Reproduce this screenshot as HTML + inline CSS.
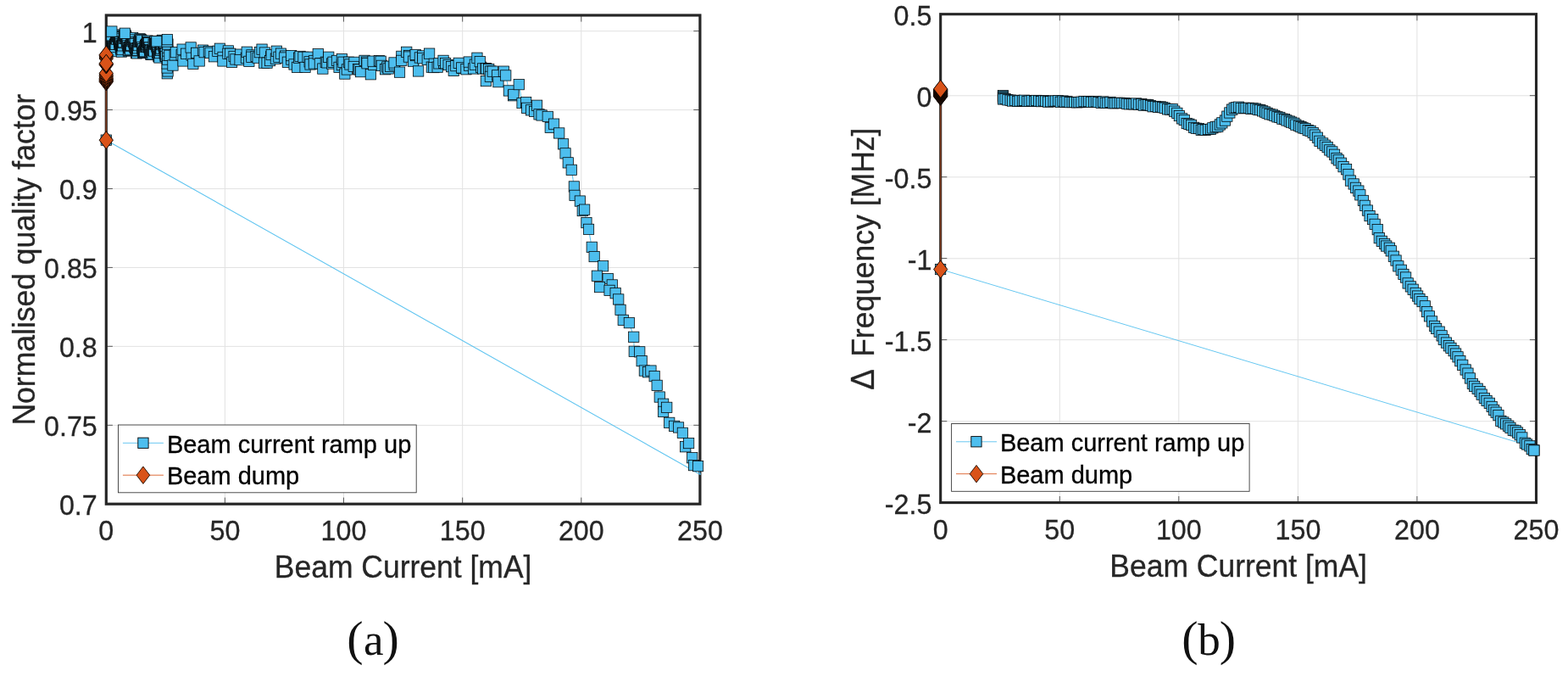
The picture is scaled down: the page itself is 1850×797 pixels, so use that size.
<!DOCTYPE html>
<html lang="en"><head><meta charset="utf-8"><title>Figure</title>
<style>
html,body{margin:0;padding:0;background:#fff;}
body{width:1850px;height:797px;overflow:hidden;}
svg{display:block;}
text{font-family:"Liberation Sans",sans-serif;fill:#262626;stroke:#262626;stroke-width:0.3px;}
.tk{font-size:32.3px;}
.lb{font-size:35.5px;}
.lg{font-size:29px;fill:#000;stroke:#000;}
.cp{font-family:"Liberation Serif",serif;font-size:53px;fill:#111;stroke:none;}
</style></head><body>
<svg width="1850" height="797" viewBox="0 0 1850 797">
<rect width="1850" height="797" fill="#fff"/>
<path d="M265.4 18V594.2M405.5 18V594.2M545.7 18V594.2M685.8 18V594.2M125.3 501.4H825.9M125.3 408.4H825.9M125.3 315.5H825.9M125.3 222.6H825.9M125.3 129.6H825.9M125.3 36.7H825.9" stroke="#e2e2e2" stroke-width="1" fill="none"/>
<path d="M265.4 594.2v-7.6M265.4 18v7.6M405.5 594.2v-7.6M405.5 18v7.6M545.7 594.2v-7.6M545.7 18v7.6M685.8 594.2v-7.6M685.8 18v7.6M125.3 501.3h7.6M825.9 501.3h-7.6M125.3 408.3h7.6M825.9 408.3h-7.6M125.3 315.4h7.6M825.9 315.4h-7.6M125.3 222.5h7.6M825.9 222.5h-7.6M125.3 129.5h7.6M825.9 129.5h-7.6M125.3 36.6h7.6M825.9 36.6h-7.6" stroke="#4a4a4a" stroke-width="0.9" fill="none"/>
<rect x="125.3" y="18" width="700.6" height="576.2" fill="none" stroke="#262626" stroke-width="3.2"/>
<path d="M1250.3 16.7V592.6M1390.8 16.7V592.6M1531.4 16.7V592.6M1671.9 16.7V592.6M1109.7 112.8H1812.5M1109.7 208.8H1812.5M1109.7 304.8H1812.5M1109.7 400.7H1812.5M1109.7 496.7H1812.5" stroke="#e2e2e2" stroke-width="1" fill="none"/>
<path d="M1250.3 592.6v-7.6M1250.3 16.7v7.6M1390.8 592.6v-7.6M1390.8 16.7v7.6M1531.4 592.6v-7.6M1531.4 16.7v7.6M1671.9 592.6v-7.6M1671.9 16.7v7.6M1109.7 112.7h7.6M1812.5 112.7h-7.6M1109.7 208.7h7.6M1812.5 208.7h-7.6M1109.7 304.6h7.6M1812.5 304.6h-7.6M1109.7 400.6h7.6M1812.5 400.6h-7.6M1109.7 496.6h7.6M1812.5 496.6h-7.6" stroke="#4a4a4a" stroke-width="0.9" fill="none"/>
<rect x="1109.7" y="16.7" width="702.8" height="575.9" fill="none" stroke="#262626" stroke-width="3.1"/>
<path d="M131.8 49.2L132.4 54.2L132.8 54.4L133 56.3L133.2 56.3L133.7 56.2L133.9 54.9L134.1 57.1L134.5 54.9L134.9 60.7L135.4 55.5L135.7 52.5L136.1 51.5L136.3 52.4L136.6 45.8L137.1 44.7L137.6 46L137.9 43.4L138.2 41.7L138.5 41.2L138.8 42.2L139.1 41.1L139.6 42.7L139.8 46.6L140 43.7L140.3 45.2L140.7 49.2L141 51.5L141.2 52.9L141.5 49.7L141.7 51.4L142 52L142.3 54.2L142.5 57.4L142.8 56.2L143 58.7L143.4 61L143.7 54.2L144.2 58.6L144.3 53L144.8 53.9L145.1 50.7L145.7 49.6L146.2 45.1L146.8 42L147.3 42.1L147.8 45.2L148.4 41.8L148.8 44.2L149.1 44.4L149.3 47.5L149.8 48.5L150.3 51.8L150.9 53.9L151.3 60.1L151.9 55.9L152.2 59.2L152.7 55.9L153 55.5L153.3 56.9L153.8 58.6L154 54L154.5 53.9L154.6 53.1L154.9 47.1L155.4 48.6L156 46.8L156.4 46.8L156.6 44.5L157.1 47.1L157.6 49.6L158.2 51.3L158.8 55.8L159.4 51.7L159.7 57L160.1 57.9L160.7 62.5L161 58.2L161.4 62.9L161.8 59.7L162.1 59.8L162.3 59.4L162.8 56.7L163.4 53.7L163.9 49.2L164.4 48.4L165 45.8L165.6 47.6L166 46.8L166.6 49.1L167 47.8L167.4 55.8L167.8 58.1L168.4 57.8L168.8 62.6L169.4 61.9L169.7 61.6L169.9 60.8L170.2 59.5L170.5 60.6L171 55.1L171.5 53.5L172.1 55.1L172.4 52.5L172.6 54.7L172.9 53.2L173.1 51.6L173.3 52.4L173.6 48.6L174 48.1L174.2 49.5L174.6 50.6L175.2 51.8L175.4 50.7L175.8 56.1L176.2 56.1L176.6 58.6L176.9 61.4L177.4 59.6L177.9 64.3L178.4 64.2L178.9 60.8L179.5 61.6L180 64L180.4 59.5L180.9 58.6L181.2 52.1L181.6 60L182.1 52L182.6 49.5L182.8 51.8L183.1 48.4L183.6 51.3L184.1 52.6L184.7 50.8L184.9 54.9L185.3 56L185.6 62.1L186.1 62.7L186.4 64.7L187 66.7L187.6 66.1L188 67.9L188.4 62.6L188.9 59.1L189.4 59.1L189.6 56.6L190 57.1L190.4 52.6L190.9 51.5L191.4 47.4L191.9 48.2L192.1 50.1L192.7 51.1L193.1 54.4L193.5 56.5L194 56.4L194.2 62.3L194.5 63.5L195 66.2L195.3 63.1L195.7 66.4L131.8 37L147.3 39.3L185 48.8L197.2 86.8L198.1 84L197.2 80L197.2 75L197.7 70L197.6 65L197.9 60L197.4 56L198 52L197.2 49L197.3 46.6L200 65.3L204 77.1L206.2 64.8L207.4 61.6L214.1 64.9L215.2 58.1L216.1 72L219.7 63.3L226.1 65L225.2 55.9L227.8 75.4L231.6 62.5L231.7 62.4L235.2 72L239.4 59.1L241.2 61.6L246.4 60.7L248.2 62.2L252.5 66.8L256.8 60.2L259.4 57.2L263.1 67.4L262.9 72L269.3 59.9L268.9 63.3L271.7 63.3L273.5 73.3L276 66.4L277.9 70L283.9 64.2L283 70.7L290.4 68.4L291.2 61.2L293.8 72.4L296.9 64.9L296.8 67.2L302 66.4L304.2 68.2L306.4 61.6L309 58.1L312.4 62.1L311.6 74.2L315 74.2L319.6 66.8L318.5 71.6L320.2 64.6L325.3 69.1L326.3 60.3L328.9 67.2L331.5 63.2L336.6 66L335.8 68.1L339.3 73.3L343.8 70.1L343.6 65.5L347 75.9L350.5 79.4L352.7 68.1L354 66.4L357.9 67.4L360 79.4L363 67.2L365.1 72.8L366 75.9L370.5 71.8L370.4 75L375.2 63.8L378.4 74.9L377.4 75L380.8 81.1L384.3 73.3L385.9 73.8L387.7 67.2L391.5 75L393 73.3L397.5 71.4L400 79.4L403.4 76.6L403.3 69.8L405 73.3L406.8 87.1L409.4 82L411.4 73.3L412.9 75.9L418 73.3L417.2 78.5L422.6 81.8L424 82L425.7 84.7L430 71.4L432.7 73L433 74.8L437.3 87.8L440.5 76.3L440 72.2L447.3 71.8L449.2 72.3L450.3 77.4L454.6 81.8L456.8 79L458.1 80.9L460.7 78.3L465.3 76.7L465 74L471.5 85.2L473.8 66.4L473.7 71.4L479.7 61.4L482.6 65.8L482.3 67L487.5 72.2L490.5 65.6L490.1 64.4L493.6 83.9L495.3 67.9L498.7 66L498.8 68.8L504.3 70.5L506.6 63.1L509.2 79.2L512.2 75.3L511.8 79.6L516.1 79.2L517.9 74.9L523.7 74.2L523 71.4L525.6 74.8L529.1 76.6L532.6 78.6L535.2 83.5L537.8 77.6L541.2 74.4L545.4 80.3L544.7 80L549.9 81.8L553.5 77.2L553.3 73.1L558.5 80.9L560.4 76.1L562.9 68.3L567.7 79.3L566.3 72.7L569.8 80.9L573.1 80.7L573.4 95.6L573.6 81L576.7 81.8L578.9 84L578.4 90.4L581.3 84.2L586.8 88.9L587.9 96.7L594.4 84.2L596.8 89L600.4 107L605.7 112.8L605.9 111.5L612.3 99.7L616 121.6L620.6 120.6L621.7 127.4L626.5 129.8L630.5 131.5L633.5 124.3L636 134.8L639 136L646.3 137.5L649.2 150.5L653.5 146.2L659.8 156.9L664.5 169.8L667 180.8L670.2 191.8L674.3 200.4L677.4 220L678 230.4L684.4 237.1L687.3 248.6L689.6 247.2L691.9 262.5L694.5 270.3L698.2 291.3L701.1 302.5L711.5 313.7L704.4 325.2L717.2 328.5L707.5 338.5L722.2 335.9L719 342.4L726.1 345.7L729.7 352.9L732 365.3L735.3 377.3L742.4 380.6L747.7 397.2L748.3 414.2L754.8 414.8L757.1 425.6L760.4 437L764.6 438.7L767.9 437L772.1 443.6L775.1 454.3L778.3 468L782.6 476.2L782.6 485.3L786.8 480.4L789.7 498.4L795.6 502.3L800.5 503.9L805.4 510.4L808.7 526.8L812.6 522.5L816.8 539.8L818.5 548.6L823.5 549.6L826.3 559.5L125.3 165.2" stroke="#4DBEEE" stroke-width="1.05" stroke-opacity="0.9" fill="none" stroke-linejoin="round"/>
<g fill="#4DBEEE" stroke="#000" stroke-width="0.75"><rect x="125.7" y="43" width="12.3" height="12.3"/><rect x="126.2" y="48" width="12.3" height="12.3"/><rect x="126.6" y="48.2" width="12.3" height="12.3"/><rect x="126.9" y="50.1" width="12.3" height="12.3"/><rect x="127.1" y="50.2" width="12.3" height="12.3"/><rect x="127.5" y="50.1" width="12.3" height="12.3"/><rect x="127.7" y="48.7" width="12.3" height="12.3"/><rect x="127.9" y="51" width="12.3" height="12.3"/><rect x="128.4" y="48.7" width="12.3" height="12.3"/><rect x="128.8" y="54.5" width="12.3" height="12.3"/><rect x="129.3" y="49.4" width="12.3" height="12.3"/><rect x="129.6" y="46.3" width="12.3" height="12.3"/><rect x="129.9" y="45.3" width="12.3" height="12.3"/><rect x="130.1" y="46.3" width="12.3" height="12.3"/><rect x="130.5" y="39.7" width="12.3" height="12.3"/><rect x="131" y="38.5" width="12.3" height="12.3"/><rect x="131.5" y="39.8" width="12.3" height="12.3"/><rect x="131.7" y="37.2" width="12.3" height="12.3"/><rect x="132.1" y="35.5" width="12.3" height="12.3"/><rect x="132.3" y="35.1" width="12.3" height="12.3"/><rect x="132.6" y="36.1" width="12.3" height="12.3"/><rect x="132.9" y="35" width="12.3" height="12.3"/><rect x="133.4" y="36.5" width="12.3" height="12.3"/><rect x="133.7" y="40.5" width="12.3" height="12.3"/><rect x="133.9" y="37.5" width="12.3" height="12.3"/><rect x="134.2" y="39.1" width="12.3" height="12.3"/><rect x="134.6" y="43" width="12.3" height="12.3"/><rect x="134.8" y="45.4" width="12.3" height="12.3"/><rect x="135.1" y="46.7" width="12.3" height="12.3"/><rect x="135.4" y="43.5" width="12.3" height="12.3"/><rect x="135.6" y="45.2" width="12.3" height="12.3"/><rect x="135.9" y="45.9" width="12.3" height="12.3"/><rect x="136.2" y="48" width="12.3" height="12.3"/><rect x="136.4" y="51.2" width="12.3" height="12.3"/><rect x="136.7" y="50" width="12.3" height="12.3"/><rect x="136.9" y="52.6" width="12.3" height="12.3"/><rect x="137.2" y="54.9" width="12.3" height="12.3"/><rect x="137.6" y="48" width="12.3" height="12.3"/><rect x="138" y="52.4" width="12.3" height="12.3"/><rect x="138.2" y="46.9" width="12.3" height="12.3"/><rect x="138.6" y="47.7" width="12.3" height="12.3"/><rect x="139" y="44.5" width="12.3" height="12.3"/><rect x="139.5" y="43.4" width="12.3" height="12.3"/><rect x="140.1" y="38.9" width="12.3" height="12.3"/><rect x="140.6" y="35.8" width="12.3" height="12.3"/><rect x="141.2" y="35.9" width="12.3" height="12.3"/><rect x="141.6" y="39" width="12.3" height="12.3"/><rect x="142.3" y="35.7" width="12.3" height="12.3"/><rect x="142.7" y="38" width="12.3" height="12.3"/><rect x="142.9" y="38.2" width="12.3" height="12.3"/><rect x="143.2" y="41.3" width="12.3" height="12.3"/><rect x="143.6" y="42.4" width="12.3" height="12.3"/><rect x="144.1" y="45.6" width="12.3" height="12.3"/><rect x="144.7" y="47.7" width="12.3" height="12.3"/><rect x="145.2" y="53.9" width="12.3" height="12.3"/><rect x="145.7" y="49.7" width="12.3" height="12.3"/><rect x="146" y="53.1" width="12.3" height="12.3"/><rect x="146.6" y="49.8" width="12.3" height="12.3"/><rect x="146.8" y="49.3" width="12.3" height="12.3"/><rect x="147.1" y="50.8" width="12.3" height="12.3"/><rect x="147.7" y="52.5" width="12.3" height="12.3"/><rect x="147.9" y="47.9" width="12.3" height="12.3"/><rect x="148.3" y="47.8" width="12.3" height="12.3"/><rect x="148.5" y="47" width="12.3" height="12.3"/><rect x="148.8" y="41" width="12.3" height="12.3"/><rect x="149.2" y="42.5" width="12.3" height="12.3"/><rect x="149.8" y="40.7" width="12.3" height="12.3"/><rect x="150.2" y="40.6" width="12.3" height="12.3"/><rect x="150.5" y="38.3" width="12.3" height="12.3"/><rect x="151" y="40.9" width="12.3" height="12.3"/><rect x="151.5" y="43.4" width="12.3" height="12.3"/><rect x="152.1" y="45.1" width="12.3" height="12.3"/><rect x="152.7" y="49.6" width="12.3" height="12.3"/><rect x="153.2" y="45.6" width="12.3" height="12.3"/><rect x="153.5" y="50.8" width="12.3" height="12.3"/><rect x="154" y="51.7" width="12.3" height="12.3"/><rect x="154.6" y="56.4" width="12.3" height="12.3"/><rect x="154.9" y="52" width="12.3" height="12.3"/><rect x="155.3" y="56.7" width="12.3" height="12.3"/><rect x="155.7" y="53.5" width="12.3" height="12.3"/><rect x="155.9" y="53.6" width="12.3" height="12.3"/><rect x="156.2" y="53.2" width="12.3" height="12.3"/><rect x="156.6" y="50.6" width="12.3" height="12.3"/><rect x="157.2" y="47.5" width="12.3" height="12.3"/><rect x="157.7" y="43.1" width="12.3" height="12.3"/><rect x="158.3" y="42.2" width="12.3" height="12.3"/><rect x="158.9" y="39.7" width="12.3" height="12.3"/><rect x="159.5" y="41.5" width="12.3" height="12.3"/><rect x="159.9" y="40.6" width="12.3" height="12.3"/><rect x="160.5" y="43" width="12.3" height="12.3"/><rect x="160.9" y="41.7" width="12.3" height="12.3"/><rect x="161.3" y="49.7" width="12.3" height="12.3"/><rect x="161.7" y="51.9" width="12.3" height="12.3"/><rect x="162.2" y="51.6" width="12.3" height="12.3"/><rect x="162.7" y="56.4" width="12.3" height="12.3"/><rect x="163.2" y="55.7" width="12.3" height="12.3"/><rect x="163.5" y="55.5" width="12.3" height="12.3"/><rect x="163.7" y="54.7" width="12.3" height="12.3"/><rect x="164" y="53.4" width="12.3" height="12.3"/><rect x="164.4" y="54.5" width="12.3" height="12.3"/><rect x="164.8" y="48.9" width="12.3" height="12.3"/><rect x="165.4" y="47.3" width="12.3" height="12.3"/><rect x="165.9" y="49" width="12.3" height="12.3"/><rect x="166.2" y="46.3" width="12.3" height="12.3"/><rect x="166.5" y="48.5" width="12.3" height="12.3"/><rect x="166.8" y="47" width="12.3" height="12.3"/><rect x="167" y="45.5" width="12.3" height="12.3"/><rect x="167.2" y="46.2" width="12.3" height="12.3"/><rect x="167.4" y="42.4" width="12.3" height="12.3"/><rect x="167.8" y="41.9" width="12.3" height="12.3"/><rect x="168" y="43.3" width="12.3" height="12.3"/><rect x="168.4" y="44.5" width="12.3" height="12.3"/><rect x="169.1" y="45.7" width="12.3" height="12.3"/><rect x="169.3" y="44.6" width="12.3" height="12.3"/><rect x="169.7" y="49.9" width="12.3" height="12.3"/><rect x="170.1" y="50" width="12.3" height="12.3"/><rect x="170.5" y="52.5" width="12.3" height="12.3"/><rect x="170.7" y="55.2" width="12.3" height="12.3"/><rect x="171.3" y="53.4" width="12.3" height="12.3"/><rect x="171.7" y="58.1" width="12.3" height="12.3"/><rect x="172.3" y="58" width="12.3" height="12.3"/><rect x="172.8" y="54.7" width="12.3" height="12.3"/><rect x="173.3" y="55.4" width="12.3" height="12.3"/><rect x="173.9" y="57.8" width="12.3" height="12.3"/><rect x="174.2" y="53.3" width="12.3" height="12.3"/><rect x="174.7" y="52.4" width="12.3" height="12.3"/><rect x="175" y="45.9" width="12.3" height="12.3"/><rect x="175.4" y="53.9" width="12.3" height="12.3"/><rect x="176" y="45.8" width="12.3" height="12.3"/><rect x="176.4" y="43.4" width="12.3" height="12.3"/><rect x="176.7" y="45.6" width="12.3" height="12.3"/><rect x="177" y="42.3" width="12.3" height="12.3"/><rect x="177.4" y="45.2" width="12.3" height="12.3"/><rect x="177.9" y="46.5" width="12.3" height="12.3"/><rect x="178.5" y="44.7" width="12.3" height="12.3"/><rect x="178.8" y="48.7" width="12.3" height="12.3"/><rect x="179.1" y="49.8" width="12.3" height="12.3"/><rect x="179.5" y="56" width="12.3" height="12.3"/><rect x="180" y="56.6" width="12.3" height="12.3"/><rect x="180.3" y="58.5" width="12.3" height="12.3"/><rect x="180.8" y="60.6" width="12.3" height="12.3"/><rect x="181.5" y="59.9" width="12.3" height="12.3"/><rect x="181.8" y="61.8" width="12.3" height="12.3"/><rect x="182.3" y="56.4" width="12.3" height="12.3"/><rect x="182.8" y="52.9" width="12.3" height="12.3"/><rect x="183.3" y="52.9" width="12.3" height="12.3"/><rect x="183.5" y="50.4" width="12.3" height="12.3"/><rect x="183.9" y="50.9" width="12.3" height="12.3"/><rect x="184.3" y="46.5" width="12.3" height="12.3"/><rect x="184.8" y="45.4" width="12.3" height="12.3"/><rect x="185.2" y="41.2" width="12.3" height="12.3"/><rect x="185.7" y="42.1" width="12.3" height="12.3"/><rect x="186" y="44" width="12.3" height="12.3"/><rect x="186.6" y="44.9" width="12.3" height="12.3"/><rect x="186.9" y="48.2" width="12.3" height="12.3"/><rect x="187.4" y="50.3" width="12.3" height="12.3"/><rect x="187.8" y="50.2" width="12.3" height="12.3"/><rect x="188.1" y="56.2" width="12.3" height="12.3"/><rect x="188.3" y="57.3" width="12.3" height="12.3"/><rect x="188.8" y="60.1" width="12.3" height="12.3"/><rect x="189.2" y="57" width="12.3" height="12.3"/><rect x="189.5" y="60.3" width="12.3" height="12.3"/><rect x="125.7" y="30.9" width="12.3" height="12.3"/><rect x="141.2" y="33.1" width="12.3" height="12.3"/><rect x="178.8" y="42.6" width="12.3" height="12.3"/><rect x="191.1" y="80.6" width="12.3" height="12.3"/><rect x="191.9" y="77.8" width="12.3" height="12.3"/><rect x="191" y="73.8" width="12.3" height="12.3"/><rect x="191" y="68.8" width="12.3" height="12.3"/><rect x="191.6" y="63.9" width="12.3" height="12.3"/><rect x="191.5" y="58.9" width="12.3" height="12.3"/><rect x="191.7" y="53.9" width="12.3" height="12.3"/><rect x="191.3" y="49.9" width="12.3" height="12.3"/><rect x="191.8" y="45.9" width="12.3" height="12.3"/><rect x="191" y="42.9" width="12.3" height="12.3"/><rect x="191.2" y="40.5" width="12.3" height="12.3"/><rect x="193.8" y="59.2" width="12.3" height="12.3"/><rect x="197.8" y="70.9" width="12.3" height="12.3"/><rect x="200.1" y="58.7" width="12.3" height="12.3"/><rect x="201.2" y="55.5" width="12.3" height="12.3"/><rect x="208" y="58.7" width="12.3" height="12.3"/><rect x="209" y="52" width="12.3" height="12.3"/><rect x="209.9" y="65.8" width="12.3" height="12.3"/><rect x="213.5" y="57.1" width="12.3" height="12.3"/><rect x="220" y="58.9" width="12.3" height="12.3"/><rect x="219" y="49.8" width="12.3" height="12.3"/><rect x="221.7" y="69.2" width="12.3" height="12.3"/><rect x="225.4" y="56.4" width="12.3" height="12.3"/><rect x="225.5" y="56.2" width="12.3" height="12.3"/><rect x="229" y="65.8" width="12.3" height="12.3"/><rect x="233.3" y="53" width="12.3" height="12.3"/><rect x="235" y="55.5" width="12.3" height="12.3"/><rect x="240.2" y="54.6" width="12.3" height="12.3"/><rect x="242" y="56.1" width="12.3" height="12.3"/><rect x="246.3" y="60.6" width="12.3" height="12.3"/><rect x="250.7" y="54.1" width="12.3" height="12.3"/><rect x="253.2" y="51.1" width="12.3" height="12.3"/><rect x="256.9" y="61.3" width="12.3" height="12.3"/><rect x="256.8" y="65.8" width="12.3" height="12.3"/><rect x="263.2" y="53.8" width="12.3" height="12.3"/><rect x="262.8" y="57.1" width="12.3" height="12.3"/><rect x="265.6" y="57.1" width="12.3" height="12.3"/><rect x="267.4" y="67.1" width="12.3" height="12.3"/><rect x="269.9" y="60.3" width="12.3" height="12.3"/><rect x="271.8" y="63.8" width="12.3" height="12.3"/><rect x="277.7" y="58" width="12.3" height="12.3"/><rect x="276.9" y="64.5" width="12.3" height="12.3"/><rect x="284.2" y="62.2" width="12.3" height="12.3"/><rect x="285.1" y="55.1" width="12.3" height="12.3"/><rect x="287.7" y="66.2" width="12.3" height="12.3"/><rect x="290.8" y="58.8" width="12.3" height="12.3"/><rect x="290.7" y="61.1" width="12.3" height="12.3"/><rect x="295.9" y="60.3" width="12.3" height="12.3"/><rect x="298" y="62" width="12.3" height="12.3"/><rect x="300.2" y="55.5" width="12.3" height="12.3"/><rect x="302.9" y="52" width="12.3" height="12.3"/><rect x="306.2" y="55.9" width="12.3" height="12.3"/><rect x="305.5" y="68" width="12.3" height="12.3"/><rect x="308.9" y="68" width="12.3" height="12.3"/><rect x="313.5" y="60.7" width="12.3" height="12.3"/><rect x="312.4" y="65.4" width="12.3" height="12.3"/><rect x="314.1" y="58.4" width="12.3" height="12.3"/><rect x="319.2" y="63" width="12.3" height="12.3"/><rect x="320.2" y="54.1" width="12.3" height="12.3"/><rect x="322.8" y="61.1" width="12.3" height="12.3"/><rect x="325.3" y="57" width="12.3" height="12.3"/><rect x="330.4" y="59.9" width="12.3" height="12.3"/><rect x="329.7" y="61.9" width="12.3" height="12.3"/><rect x="333.2" y="67.1" width="12.3" height="12.3"/><rect x="337.7" y="63.9" width="12.3" height="12.3"/><rect x="337.5" y="59.4" width="12.3" height="12.3"/><rect x="340.9" y="69.8" width="12.3" height="12.3"/><rect x="344.4" y="73.2" width="12.3" height="12.3"/><rect x="346.5" y="62" width="12.3" height="12.3"/><rect x="347.9" y="60.3" width="12.3" height="12.3"/><rect x="351.8" y="61.2" width="12.3" height="12.3"/><rect x="353.9" y="73.2" width="12.3" height="12.3"/><rect x="356.9" y="61.1" width="12.3" height="12.3"/><rect x="359" y="66.7" width="12.3" height="12.3"/><rect x="359.9" y="69.8" width="12.3" height="12.3"/><rect x="364.3" y="65.7" width="12.3" height="12.3"/><rect x="364.2" y="68.8" width="12.3" height="12.3"/><rect x="369.1" y="57.6" width="12.3" height="12.3"/><rect x="372.3" y="68.7" width="12.3" height="12.3"/><rect x="371.2" y="68.8" width="12.3" height="12.3"/><rect x="374.7" y="74.9" width="12.3" height="12.3"/><rect x="378.2" y="67.1" width="12.3" height="12.3"/><rect x="379.8" y="67.7" width="12.3" height="12.3"/><rect x="381.6" y="61.1" width="12.3" height="12.3"/><rect x="385.4" y="68.9" width="12.3" height="12.3"/><rect x="386.9" y="67.1" width="12.3" height="12.3"/><rect x="391.3" y="65.3" width="12.3" height="12.3"/><rect x="393.9" y="73.2" width="12.3" height="12.3"/><rect x="397.2" y="70.5" width="12.3" height="12.3"/><rect x="397.2" y="63.6" width="12.3" height="12.3"/><rect x="398.9" y="67.1" width="12.3" height="12.3"/><rect x="400.7" y="80.9" width="12.3" height="12.3"/><rect x="403.2" y="75.8" width="12.3" height="12.3"/><rect x="405.3" y="67.1" width="12.3" height="12.3"/><rect x="406.8" y="69.8" width="12.3" height="12.3"/><rect x="411.9" y="67.2" width="12.3" height="12.3"/><rect x="411.1" y="72.3" width="12.3" height="12.3"/><rect x="416.5" y="75.6" width="12.3" height="12.3"/><rect x="417.9" y="75.8" width="12.3" height="12.3"/><rect x="419.6" y="78.5" width="12.3" height="12.3"/><rect x="423.9" y="65.2" width="12.3" height="12.3"/><rect x="426.5" y="66.9" width="12.3" height="12.3"/><rect x="426.9" y="68.6" width="12.3" height="12.3"/><rect x="431.2" y="81.6" width="12.3" height="12.3"/><rect x="434.4" y="70.1" width="12.3" height="12.3"/><rect x="433.9" y="66" width="12.3" height="12.3"/><rect x="441.2" y="65.6" width="12.3" height="12.3"/><rect x="443" y="66.1" width="12.3" height="12.3"/><rect x="444.2" y="71.2" width="12.3" height="12.3"/><rect x="448.5" y="75.6" width="12.3" height="12.3"/><rect x="450.7" y="72.8" width="12.3" height="12.3"/><rect x="452" y="74.8" width="12.3" height="12.3"/><rect x="454.6" y="72.1" width="12.3" height="12.3"/><rect x="459.1" y="70.5" width="12.3" height="12.3"/><rect x="458.9" y="67.8" width="12.3" height="12.3"/><rect x="465.4" y="79" width="12.3" height="12.3"/><rect x="467.7" y="60.2" width="12.3" height="12.3"/><rect x="467.6" y="65.2" width="12.3" height="12.3"/><rect x="473.6" y="55.2" width="12.3" height="12.3"/><rect x="476.5" y="59.6" width="12.3" height="12.3"/><rect x="476.2" y="60.9" width="12.3" height="12.3"/><rect x="481.4" y="66" width="12.3" height="12.3"/><rect x="484.3" y="59.4" width="12.3" height="12.3"/><rect x="484" y="58.3" width="12.3" height="12.3"/><rect x="487.5" y="77.8" width="12.3" height="12.3"/><rect x="489.2" y="61.8" width="12.3" height="12.3"/><rect x="492.5" y="59.8" width="12.3" height="12.3"/><rect x="492.7" y="62.6" width="12.3" height="12.3"/><rect x="498.1" y="64.3" width="12.3" height="12.3"/><rect x="500.5" y="57" width="12.3" height="12.3"/><rect x="503.1" y="73" width="12.3" height="12.3"/><rect x="506.1" y="69.1" width="12.3" height="12.3"/><rect x="505.7" y="73.4" width="12.3" height="12.3"/><rect x="510" y="73" width="12.3" height="12.3"/><rect x="511.8" y="68.7" width="12.3" height="12.3"/><rect x="517.6" y="68.1" width="12.3" height="12.3"/><rect x="516.9" y="65.2" width="12.3" height="12.3"/><rect x="519.5" y="68.6" width="12.3" height="12.3"/><rect x="523" y="70.4" width="12.3" height="12.3"/><rect x="526.5" y="72.5" width="12.3" height="12.3"/><rect x="529.1" y="77.3" width="12.3" height="12.3"/><rect x="531.7" y="71.5" width="12.3" height="12.3"/><rect x="535.1" y="68.2" width="12.3" height="12.3"/><rect x="539.3" y="74.1" width="12.3" height="12.3"/><rect x="538.6" y="73.8" width="12.3" height="12.3"/><rect x="543.8" y="75.6" width="12.3" height="12.3"/><rect x="547.4" y="71" width="12.3" height="12.3"/><rect x="547.1" y="66.9" width="12.3" height="12.3"/><rect x="552.4" y="74.8" width="12.3" height="12.3"/><rect x="554.2" y="70" width="12.3" height="12.3"/><rect x="556.8" y="62.1" width="12.3" height="12.3"/><rect x="561.6" y="73.1" width="12.3" height="12.3"/><rect x="560.1" y="66.5" width="12.3" height="12.3"/><rect x="563.6" y="74.8" width="12.3" height="12.3"/><rect x="567" y="74.5" width="12.3" height="12.3"/><rect x="567.2" y="89.4" width="12.3" height="12.3"/><rect x="567.5" y="74.8" width="12.3" height="12.3"/><rect x="570.6" y="75.6" width="12.3" height="12.3"/><rect x="572.7" y="77.9" width="12.3" height="12.3"/><rect x="572.2" y="84.2" width="12.3" height="12.3"/><rect x="575.1" y="78" width="12.3" height="12.3"/><rect x="580.6" y="82.7" width="12.3" height="12.3"/><rect x="581.8" y="90.5" width="12.3" height="12.3"/><rect x="588.2" y="78" width="12.3" height="12.3"/><rect x="590.6" y="82.8" width="12.3" height="12.3"/><rect x="594.2" y="100.8" width="12.3" height="12.3"/><rect x="599.6" y="106.6" width="12.3" height="12.3"/><rect x="599.8" y="105.3" width="12.3" height="12.3"/><rect x="606.1" y="93.5" width="12.3" height="12.3"/><rect x="609.9" y="115.4" width="12.3" height="12.3"/><rect x="614.5" y="114.4" width="12.3" height="12.3"/><rect x="615.6" y="121.2" width="12.3" height="12.3"/><rect x="620.4" y="123.7" width="12.3" height="12.3"/><rect x="624.4" y="125.3" width="12.3" height="12.3"/><rect x="627.4" y="118.1" width="12.3" height="12.3"/><rect x="629.9" y="128.7" width="12.3" height="12.3"/><rect x="632.9" y="129.8" width="12.3" height="12.3"/><rect x="640.1" y="131.3" width="12.3" height="12.3"/><rect x="643.1" y="144.3" width="12.3" height="12.3"/><rect x="647.4" y="140" width="12.3" height="12.3"/><rect x="653.6" y="150.8" width="12.3" height="12.3"/><rect x="658.4" y="163.7" width="12.3" height="12.3"/><rect x="660.9" y="174.7" width="12.3" height="12.3"/><rect x="664.1" y="185.7" width="12.3" height="12.3"/><rect x="668.1" y="194.2" width="12.3" height="12.3"/><rect x="671.2" y="213.8" width="12.3" height="12.3"/><rect x="671.9" y="224.2" width="12.3" height="12.3"/><rect x="678.2" y="230.9" width="12.3" height="12.3"/><rect x="681.1" y="242.4" width="12.3" height="12.3"/><rect x="683.5" y="241" width="12.3" height="12.3"/><rect x="685.8" y="256.4" width="12.3" height="12.3"/><rect x="688.4" y="264.2" width="12.3" height="12.3"/><rect x="692.1" y="285.2" width="12.3" height="12.3"/><rect x="695" y="296.4" width="12.3" height="12.3"/><rect x="705.4" y="307.6" width="12.3" height="12.3"/><rect x="698.2" y="319.1" width="12.3" height="12.3"/><rect x="711.1" y="322.4" width="12.3" height="12.3"/><rect x="701.4" y="332.4" width="12.3" height="12.3"/><rect x="716.1" y="329.8" width="12.3" height="12.3"/><rect x="712.9" y="336.2" width="12.3" height="12.3"/><rect x="720" y="339.6" width="12.3" height="12.3"/><rect x="723.6" y="346.8" width="12.3" height="12.3"/><rect x="725.9" y="359.2" width="12.3" height="12.3"/><rect x="729.1" y="371.2" width="12.3" height="12.3"/><rect x="736.2" y="374.5" width="12.3" height="12.3"/><rect x="741.6" y="391.1" width="12.3" height="12.3"/><rect x="742.1" y="408.1" width="12.3" height="12.3"/><rect x="748.6" y="408.7" width="12.3" height="12.3"/><rect x="751" y="419.5" width="12.3" height="12.3"/><rect x="754.2" y="430.9" width="12.3" height="12.3"/><rect x="758.5" y="432.6" width="12.3" height="12.3"/><rect x="761.8" y="430.9" width="12.3" height="12.3"/><rect x="766" y="437.5" width="12.3" height="12.3"/><rect x="769" y="448.2" width="12.3" height="12.3"/><rect x="772.1" y="461.9" width="12.3" height="12.3"/><rect x="776.5" y="470.1" width="12.3" height="12.3"/><rect x="776.5" y="479.2" width="12.3" height="12.3"/><rect x="780.6" y="474.2" width="12.3" height="12.3"/><rect x="783.6" y="492.2" width="12.3" height="12.3"/><rect x="789.5" y="496.2" width="12.3" height="12.3"/><rect x="794.4" y="497.8" width="12.3" height="12.3"/><rect x="799.2" y="504.2" width="12.3" height="12.3"/><rect x="802.6" y="520.6" width="12.3" height="12.3"/><rect x="806.5" y="516.4" width="12.3" height="12.3"/><rect x="810.6" y="533.6" width="12.3" height="12.3"/><rect x="812.4" y="542.5" width="12.3" height="12.3"/><rect x="817.4" y="543.5" width="12.3" height="12.3"/><rect x="119.1" y="159" width="12.3" height="12.3"/></g>
<path d="M125.3 165V66" stroke="#D95319" stroke-width="1.5" stroke-opacity="0.5" fill="none"/>
<g fill="#D95319" stroke="#120600" stroke-width="1"><path d="M125.3 154.7l8.1 10.5l-8.1 10.5l-8.1 -10.5z"/><path d="M125.3 86l8.1 10.5l-8.1 10.5l-8.1 -10.5z"/><path d="M125.3 85l8.1 10.5l-8.1 10.5l-8.1 -10.5z"/><path d="M125.3 84l8.1 10.5l-8.1 10.5l-8.1 -10.5z"/><path d="M125.3 83l8.1 10.5l-8.1 10.5l-8.1 -10.5z"/><path d="M125.3 82l8.1 10.5l-8.1 10.5l-8.1 -10.5z"/><path d="M125.3 80.5l8.1 10.5l-8.1 10.5l-8.1 -10.5z"/><path d="M125.3 79l8.1 10.5l-8.1 10.5l-8.1 -10.5z"/><path d="M125.3 77.5l8.1 10.5l-8.1 10.5l-8.1 -10.5z"/><path d="M125.3 58.5l8.1 10.5l-8.1 10.5l-8.1 -10.5z"/><path d="M125.3 56.5l8.1 10.5l-8.1 10.5l-8.1 -10.5z"/><path d="M125.3 54.8l8.1 10.5l-8.1 10.5l-8.1 -10.5z"/><path d="M125.3 54.1l8.1 10.5l-8.1 10.5l-8.1 -10.5z"/><path d="M125.3 75.8l8.1 10.5l-8.1 10.5l-8.1 -10.5z"/><path d="M125.3 66l8.1 10.5l-8.1 10.5l-8.1 -10.5z"/><path d="M125.3 65l8.1 10.5l-8.1 10.5l-8.1 -10.5z"/><path d="M125.3 64.2l8.1 10.5l-8.1 10.5l-8.1 -10.5z"/></g>
<path d="M1183.5 112.8L1183.5 114L1183.5 115L1183.6 116L1183.8 117L1186 116.6L1188.9 117.8L1192.2 118.1L1194.8 119.1L1197.5 118.3L1200.8 119.5L1203 118.9L1206.4 118.9L1208.5 118.2L1212.1 119.5L1214.3 119.1L1217.2 118.7L1220.5 119.4L1222.6 118.4L1225.6 119.1L1228.8 119.6L1231.4 118.8L1233.8 119.1L1236.7 120L1239.7 119.7L1243 119.2L1245.4 119L1248.4 118.9L1251.3 120.3L1254.1 119.1L1256.4 120.2L1259 119.8L1262.2 120.6L1265.1 120.5L1267.6 120.5L1270.6 120.7L1273 120.6L1276 120.2L1279.1 119.7L1282.2 120L1284.5 119.6L1287.3 120.3L1290.5 120.2L1293.3 119.9L1295.8 120.6L1299.2 121.3L1301.7 120.1L1304.3 121.3L1306.9 121.2L1310 120.4L1313.3 121.8L1315.3 121.6L1318.2 121.3L1321.3 121.3L1323.9 121.6L1327 121.5L1329.4 122.4L1332.3 122.8L1335.4 122.6L1337.9 122.8L1340.5 121.9L1343.3 123.2L1346.7 122.7L1349.3 124.2L1352.3 123.3L1354.7 123.8L1357.4 124.6L1360.2 125.8L1363.3 125.5L1366.4 126.2L1369.3 126L1371.7 126.6L1374.2 127.3L1377.7 128.9L1380.6 129.1L1383.2 128.7L1385.7 131.2L1388.9 133.4L1391.4 136.6L1394.6 139.8L1397.2 141.6L1400.2 145.6L1402.8 146.3L1405.6 147.5L1408.6 150.4L1411.2 151.3L1414.3 151.5L1417.3 153.3L1419.3 152.7L1422.2 153.2L1425.4 152.6L1428.5 152.4L1430.8 150.9L1434.2 149.7L1436.9 149.3L1439.4 146.9L1441.9 144.8L1445.4 142L1447.8 137.2L1450.9 133L1453.8 129.1L1456.2 127.2L1458.7 126.9L1461.4 126.2L1464.3 127.8L1467.9 127.3L1470 127.5L1473.3 127.4L1475.9 128.4L1478.2 127.9L1481.4 128.2L1484.2 129.3L1486.8 129.6L1489.7 130.8L1492.5 132.1L1495.1 133.2L1498 134.8L1501.2 135.1L1503.9 136.5L1507 137.8L1509.8 138.5L1512.9 140.2L1515.6 140.6L1517.9 142L1521.2 143.1L1523.7 144.2L1526.8 145.2L1528.8 147.1L1532.5 148.4L1535 149.7L1537.5 150.8L1540.1 151.6L1543.3 153.6L1546 154.4L1549.1 156.6L1551.5 159.1L1554.4 162.1L1556.9 166.4L1560.6 168.9L1563.4 171.3L1566.1 173.7L1568.9 177L1571.8 179L1574.5 182.2L1577.1 186.8L1579.4 188.9L1582.5 192.2L1585 196.7L1588.6 199.7L1591 205.8L1593.5 213L1597.1 216.9L1599.5 221.4L1602.8 225.1L1604.9 229.8L1608.4 236.5L1610.5 242.4L1613.4 248.1L1616.1 254.6L1619.7 258.5L1622.1 264.4L1625.2 270.7L1627.2 280.6L1630.3 284.4L1633.6 287.5L1635.7 290L1639.3 292.2L1641.3 295.8L1644.3 302.2L1647 307.1L1649.9 313.9L1653.2 318.4L1655.9 323.4L1658.6 327L1661.2 334L1664.3 337.9L1667.1 341.3L1670.3 345.5L1672.6 349.1L1675 352.6L1678 355.6L1681.4 360.9L1683.6 367.5L1686.4 372.9L1689.5 378.9L1692.7 384.5L1694.6 387.5L1698.2 391.2L1701.2 395.8L1703.2 400.4L1706.5 404.1L1709.3 407.8L1712 410.3L1715.1 413.6L1717.6 417L1720.1 420.9L1722.9 425.6L1725.8 430.3L1729.1 436L1731.9 440.1L1734.4 445.9L1737.3 452.5L1739.6 455.4L1743.1 458.2L1746.1 461.5L1748.2 465.2L1751.3 469.4L1754.1 472.4L1757.2 475.4L1760.2 479.4L1762.6 483.5L1765.1 486.1L1768 489.7L1770.8 496.3L1773.8 497.9L1776.7 499.8L1779.8 502.1L1782 504.3L1785.2 507.3L1788.2 507.8L1790.6 510.1L1793.2 512.8L1795.8 516L1799.4 522.3L1801.6 524L1805 525.9L1807.3 529.6L1810 530.8L1810 531L1812.5 528.1L1109.7 317.5" stroke="#4DBEEE" stroke-width="1" stroke-opacity="0.85" fill="none"/>
<g fill="#4DBEEE" stroke="#000" stroke-width="0.75"><rect x="1177.3" y="106.6" width="12.3" height="12.3"/><rect x="1177.3" y="107.8" width="12.3" height="12.3"/><rect x="1177.3" y="108.8" width="12.3" height="12.3"/><rect x="1177.4" y="109.8" width="12.3" height="12.3"/><rect x="1177.6" y="110.8" width="12.3" height="12.3"/><rect x="1179.9" y="110.4" width="12.3" height="12.3"/><rect x="1182.8" y="111.7" width="12.3" height="12.3"/><rect x="1186" y="112" width="12.3" height="12.3"/><rect x="1188.6" y="112.9" width="12.3" height="12.3"/><rect x="1191.4" y="112.2" width="12.3" height="12.3"/><rect x="1194.6" y="113.3" width="12.3" height="12.3"/><rect x="1196.9" y="112.8" width="12.3" height="12.3"/><rect x="1200.3" y="112.7" width="12.3" height="12.3"/><rect x="1202.4" y="112.1" width="12.3" height="12.3"/><rect x="1205.9" y="113.3" width="12.3" height="12.3"/><rect x="1208.2" y="113" width="12.3" height="12.3"/><rect x="1211.1" y="112.6" width="12.3" height="12.3"/><rect x="1214.4" y="113.3" width="12.3" height="12.3"/><rect x="1216.4" y="112.3" width="12.3" height="12.3"/><rect x="1219.5" y="112.9" width="12.3" height="12.3"/><rect x="1222.6" y="113.5" width="12.3" height="12.3"/><rect x="1225.2" y="112.7" width="12.3" height="12.3"/><rect x="1227.6" y="113" width="12.3" height="12.3"/><rect x="1230.5" y="113.9" width="12.3" height="12.3"/><rect x="1233.6" y="113.6" width="12.3" height="12.3"/><rect x="1236.9" y="113" width="12.3" height="12.3"/><rect x="1239.2" y="112.9" width="12.3" height="12.3"/><rect x="1242.3" y="112.7" width="12.3" height="12.3"/><rect x="1245.1" y="114.1" width="12.3" height="12.3"/><rect x="1247.9" y="112.9" width="12.3" height="12.3"/><rect x="1250.2" y="114" width="12.3" height="12.3"/><rect x="1252.8" y="113.7" width="12.3" height="12.3"/><rect x="1256" y="114.5" width="12.3" height="12.3"/><rect x="1259" y="114.4" width="12.3" height="12.3"/><rect x="1261.5" y="114.3" width="12.3" height="12.3"/><rect x="1264.4" y="114.6" width="12.3" height="12.3"/><rect x="1266.9" y="114.5" width="12.3" height="12.3"/><rect x="1269.8" y="114.1" width="12.3" height="12.3"/><rect x="1272.9" y="113.5" width="12.3" height="12.3"/><rect x="1276.1" y="113.8" width="12.3" height="12.3"/><rect x="1278.4" y="113.5" width="12.3" height="12.3"/><rect x="1281.2" y="114.2" width="12.3" height="12.3"/><rect x="1284.4" y="114" width="12.3" height="12.3"/><rect x="1287.2" y="113.7" width="12.3" height="12.3"/><rect x="1289.7" y="114.4" width="12.3" height="12.3"/><rect x="1293.1" y="115.1" width="12.3" height="12.3"/><rect x="1295.6" y="113.9" width="12.3" height="12.3"/><rect x="1298.1" y="115.2" width="12.3" height="12.3"/><rect x="1300.8" y="115" width="12.3" height="12.3"/><rect x="1303.8" y="114.3" width="12.3" height="12.3"/><rect x="1307.1" y="115.6" width="12.3" height="12.3"/><rect x="1309.2" y="115.5" width="12.3" height="12.3"/><rect x="1312.1" y="115.2" width="12.3" height="12.3"/><rect x="1315.1" y="115.2" width="12.3" height="12.3"/><rect x="1317.7" y="115.4" width="12.3" height="12.3"/><rect x="1320.9" y="115.3" width="12.3" height="12.3"/><rect x="1323.2" y="116.2" width="12.3" height="12.3"/><rect x="1326.2" y="116.7" width="12.3" height="12.3"/><rect x="1329.2" y="116.4" width="12.3" height="12.3"/><rect x="1331.8" y="116.7" width="12.3" height="12.3"/><rect x="1334.4" y="115.8" width="12.3" height="12.3"/><rect x="1337.2" y="117" width="12.3" height="12.3"/><rect x="1340.6" y="116.6" width="12.3" height="12.3"/><rect x="1343.1" y="118" width="12.3" height="12.3"/><rect x="1346.1" y="117.2" width="12.3" height="12.3"/><rect x="1348.5" y="117.6" width="12.3" height="12.3"/><rect x="1351.3" y="118.4" width="12.3" height="12.3"/><rect x="1354" y="119.6" width="12.3" height="12.3"/><rect x="1357.2" y="119.3" width="12.3" height="12.3"/><rect x="1360.2" y="120.1" width="12.3" height="12.3"/><rect x="1363.2" y="119.8" width="12.3" height="12.3"/><rect x="1365.5" y="120.5" width="12.3" height="12.3"/><rect x="1368" y="121.1" width="12.3" height="12.3"/><rect x="1371.5" y="122.7" width="12.3" height="12.3"/><rect x="1374.4" y="122.9" width="12.3" height="12.3"/><rect x="1377" y="122.6" width="12.3" height="12.3"/><rect x="1379.6" y="125" width="12.3" height="12.3"/><rect x="1382.7" y="127.2" width="12.3" height="12.3"/><rect x="1385.2" y="130.4" width="12.3" height="12.3"/><rect x="1388.5" y="133.7" width="12.3" height="12.3"/><rect x="1391.1" y="135.4" width="12.3" height="12.3"/><rect x="1394.1" y="139.4" width="12.3" height="12.3"/><rect x="1396.7" y="140.1" width="12.3" height="12.3"/><rect x="1399.4" y="141.3" width="12.3" height="12.3"/><rect x="1402.4" y="144.2" width="12.3" height="12.3"/><rect x="1405.1" y="145.1" width="12.3" height="12.3"/><rect x="1408.2" y="145.4" width="12.3" height="12.3"/><rect x="1411.1" y="147.1" width="12.3" height="12.3"/><rect x="1413.2" y="146.5" width="12.3" height="12.3"/><rect x="1416" y="147.1" width="12.3" height="12.3"/><rect x="1419.3" y="146.4" width="12.3" height="12.3"/><rect x="1422.3" y="146.2" width="12.3" height="12.3"/><rect x="1424.7" y="144.7" width="12.3" height="12.3"/><rect x="1428" y="143.6" width="12.3" height="12.3"/><rect x="1430.7" y="143.1" width="12.3" height="12.3"/><rect x="1433.2" y="140.8" width="12.3" height="12.3"/><rect x="1435.7" y="138.7" width="12.3" height="12.3"/><rect x="1439.3" y="135.9" width="12.3" height="12.3"/><rect x="1441.7" y="131" width="12.3" height="12.3"/><rect x="1444.7" y="126.8" width="12.3" height="12.3"/><rect x="1447.6" y="123" width="12.3" height="12.3"/><rect x="1450.1" y="121.1" width="12.3" height="12.3"/><rect x="1452.5" y="120.7" width="12.3" height="12.3"/><rect x="1455.2" y="120" width="12.3" height="12.3"/><rect x="1458.1" y="121.6" width="12.3" height="12.3"/><rect x="1461.7" y="121.2" width="12.3" height="12.3"/><rect x="1463.9" y="121.3" width="12.3" height="12.3"/><rect x="1467.1" y="121.2" width="12.3" height="12.3"/><rect x="1469.8" y="122.3" width="12.3" height="12.3"/><rect x="1472" y="121.7" width="12.3" height="12.3"/><rect x="1475.3" y="122" width="12.3" height="12.3"/><rect x="1478" y="123.1" width="12.3" height="12.3"/><rect x="1480.6" y="123.5" width="12.3" height="12.3"/><rect x="1483.5" y="124.7" width="12.3" height="12.3"/><rect x="1486.4" y="125.9" width="12.3" height="12.3"/><rect x="1488.9" y="127.1" width="12.3" height="12.3"/><rect x="1491.8" y="128.6" width="12.3" height="12.3"/><rect x="1495.1" y="129" width="12.3" height="12.3"/><rect x="1497.7" y="130.3" width="12.3" height="12.3"/><rect x="1500.8" y="131.7" width="12.3" height="12.3"/><rect x="1503.7" y="132.3" width="12.3" height="12.3"/><rect x="1506.7" y="134" width="12.3" height="12.3"/><rect x="1509.4" y="134.4" width="12.3" height="12.3"/><rect x="1511.8" y="135.8" width="12.3" height="12.3"/><rect x="1515.1" y="136.9" width="12.3" height="12.3"/><rect x="1517.5" y="138" width="12.3" height="12.3"/><rect x="1520.7" y="139.1" width="12.3" height="12.3"/><rect x="1522.7" y="141" width="12.3" height="12.3"/><rect x="1526.3" y="142.3" width="12.3" height="12.3"/><rect x="1528.8" y="143.5" width="12.3" height="12.3"/><rect x="1531.3" y="144.7" width="12.3" height="12.3"/><rect x="1533.9" y="145.4" width="12.3" height="12.3"/><rect x="1537.1" y="147.5" width="12.3" height="12.3"/><rect x="1539.9" y="148.2" width="12.3" height="12.3"/><rect x="1543" y="150.4" width="12.3" height="12.3"/><rect x="1545.3" y="153" width="12.3" height="12.3"/><rect x="1548.3" y="156" width="12.3" height="12.3"/><rect x="1550.8" y="160.2" width="12.3" height="12.3"/><rect x="1554.5" y="162.8" width="12.3" height="12.3"/><rect x="1557.2" y="165.1" width="12.3" height="12.3"/><rect x="1560" y="167.5" width="12.3" height="12.3"/><rect x="1562.7" y="170.8" width="12.3" height="12.3"/><rect x="1565.7" y="172.8" width="12.3" height="12.3"/><rect x="1568.4" y="176.1" width="12.3" height="12.3"/><rect x="1570.9" y="180.6" width="12.3" height="12.3"/><rect x="1573.2" y="182.7" width="12.3" height="12.3"/><rect x="1576.3" y="186.1" width="12.3" height="12.3"/><rect x="1578.9" y="190.5" width="12.3" height="12.3"/><rect x="1582.4" y="193.6" width="12.3" height="12.3"/><rect x="1584.8" y="199.6" width="12.3" height="12.3"/><rect x="1587.3" y="206.9" width="12.3" height="12.3"/><rect x="1591" y="210.8" width="12.3" height="12.3"/><rect x="1593.4" y="215.2" width="12.3" height="12.3"/><rect x="1596.7" y="218.9" width="12.3" height="12.3"/><rect x="1598.7" y="223.7" width="12.3" height="12.3"/><rect x="1602.2" y="230.3" width="12.3" height="12.3"/><rect x="1604.3" y="236.2" width="12.3" height="12.3"/><rect x="1607.3" y="241.9" width="12.3" height="12.3"/><rect x="1609.9" y="248.4" width="12.3" height="12.3"/><rect x="1613.6" y="252.4" width="12.3" height="12.3"/><rect x="1616" y="258.2" width="12.3" height="12.3"/><rect x="1619.1" y="264.5" width="12.3" height="12.3"/><rect x="1621.1" y="274.5" width="12.3" height="12.3"/><rect x="1624.1" y="278.2" width="12.3" height="12.3"/><rect x="1627.5" y="281.3" width="12.3" height="12.3"/><rect x="1629.6" y="283.9" width="12.3" height="12.3"/><rect x="1633.2" y="286.1" width="12.3" height="12.3"/><rect x="1635.1" y="289.7" width="12.3" height="12.3"/><rect x="1638.2" y="296.1" width="12.3" height="12.3"/><rect x="1640.9" y="300.9" width="12.3" height="12.3"/><rect x="1643.7" y="307.7" width="12.3" height="12.3"/><rect x="1647.1" y="312.2" width="12.3" height="12.3"/><rect x="1649.8" y="317.3" width="12.3" height="12.3"/><rect x="1652.5" y="320.9" width="12.3" height="12.3"/><rect x="1655" y="327.8" width="12.3" height="12.3"/><rect x="1658.2" y="331.7" width="12.3" height="12.3"/><rect x="1661" y="335.1" width="12.3" height="12.3"/><rect x="1664.1" y="339.3" width="12.3" height="12.3"/><rect x="1666.5" y="342.9" width="12.3" height="12.3"/><rect x="1668.8" y="346.4" width="12.3" height="12.3"/><rect x="1671.9" y="349.4" width="12.3" height="12.3"/><rect x="1675.2" y="354.7" width="12.3" height="12.3"/><rect x="1677.5" y="361.4" width="12.3" height="12.3"/><rect x="1680.3" y="366.7" width="12.3" height="12.3"/><rect x="1683.4" y="372.8" width="12.3" height="12.3"/><rect x="1686.5" y="378.3" width="12.3" height="12.3"/><rect x="1688.5" y="381.3" width="12.3" height="12.3"/><rect x="1692" y="385" width="12.3" height="12.3"/><rect x="1695" y="389.7" width="12.3" height="12.3"/><rect x="1697.1" y="394.3" width="12.3" height="12.3"/><rect x="1700.3" y="397.9" width="12.3" height="12.3"/><rect x="1703.2" y="401.6" width="12.3" height="12.3"/><rect x="1705.8" y="404.2" width="12.3" height="12.3"/><rect x="1709" y="407.5" width="12.3" height="12.3"/><rect x="1711.5" y="410.9" width="12.3" height="12.3"/><rect x="1713.9" y="414.7" width="12.3" height="12.3"/><rect x="1716.7" y="419.5" width="12.3" height="12.3"/><rect x="1719.6" y="424.2" width="12.3" height="12.3"/><rect x="1723" y="429.8" width="12.3" height="12.3"/><rect x="1725.8" y="434" width="12.3" height="12.3"/><rect x="1728.3" y="439.8" width="12.3" height="12.3"/><rect x="1731.2" y="446.3" width="12.3" height="12.3"/><rect x="1733.5" y="449.3" width="12.3" height="12.3"/><rect x="1737" y="452.1" width="12.3" height="12.3"/><rect x="1739.9" y="455.4" width="12.3" height="12.3"/><rect x="1742" y="459" width="12.3" height="12.3"/><rect x="1745.2" y="463.3" width="12.3" height="12.3"/><rect x="1747.9" y="466.3" width="12.3" height="12.3"/><rect x="1751.1" y="469.2" width="12.3" height="12.3"/><rect x="1754" y="473.3" width="12.3" height="12.3"/><rect x="1756.5" y="477.3" width="12.3" height="12.3"/><rect x="1759" y="480" width="12.3" height="12.3"/><rect x="1761.8" y="483.5" width="12.3" height="12.3"/><rect x="1764.7" y="490.2" width="12.3" height="12.3"/><rect x="1767.7" y="491.8" width="12.3" height="12.3"/><rect x="1770.6" y="493.7" width="12.3" height="12.3"/><rect x="1773.6" y="496" width="12.3" height="12.3"/><rect x="1775.8" y="498.2" width="12.3" height="12.3"/><rect x="1779.1" y="501.1" width="12.3" height="12.3"/><rect x="1782" y="501.7" width="12.3" height="12.3"/><rect x="1784.4" y="503.9" width="12.3" height="12.3"/><rect x="1787.1" y="506.6" width="12.3" height="12.3"/><rect x="1789.7" y="509.8" width="12.3" height="12.3"/><rect x="1793.2" y="516.1" width="12.3" height="12.3"/><rect x="1795.4" y="517.8" width="12.3" height="12.3"/><rect x="1798.8" y="519.7" width="12.3" height="12.3"/><rect x="1801.1" y="523.4" width="12.3" height="12.3"/><rect x="1803.8" y="524.7" width="12.3" height="12.3"/><rect x="1803.8" y="524.9" width="12.3" height="12.3"/><rect x="1103.5" y="311.4" width="12.3" height="12.3"/></g>
<path d="M1109.7 317.5V105" stroke="#D95319" stroke-width="1.5" stroke-opacity="0.5" fill="none"/>
<g fill="#D95319" stroke="#000" stroke-width="0.9"><path d="M1109.7 307l8.1 10.5l-8.1 10.5l-8.1 -10.5z"/><path d="M1109.7 103.4l8.1 10.5l-8.1 10.5l-8.1 -10.5z"/><path d="M1109.7 103l8.1 10.5l-8.1 10.5l-8.1 -10.5z"/><path d="M1109.7 102.5l8.1 10.5l-8.1 10.5l-8.1 -10.5z"/><path d="M1109.7 102.1l8.1 10.5l-8.1 10.5l-8.1 -10.5z"/><path d="M1109.7 101.6l8.1 10.5l-8.1 10.5l-8.1 -10.5z"/><path d="M1109.7 101.2l8.1 10.5l-8.1 10.5l-8.1 -10.5z"/><path d="M1109.7 100.7l8.1 10.5l-8.1 10.5l-8.1 -10.5z"/><path d="M1109.7 100.2l8.1 10.5l-8.1 10.5l-8.1 -10.5z"/><path d="M1109.7 99.8l8.1 10.5l-8.1 10.5l-8.1 -10.5z"/><path d="M1109.7 99.4l8.1 10.5l-8.1 10.5l-8.1 -10.5z"/><path d="M1109.7 98.9l8.1 10.5l-8.1 10.5l-8.1 -10.5z"/><path d="M1109.7 98.5l8.1 10.5l-8.1 10.5l-8.1 -10.5z"/><path d="M1109.7 98l8.1 10.5l-8.1 10.5l-8.1 -10.5z"/><path d="M1109.7 97.6l8.1 10.5l-8.1 10.5l-8.1 -10.5z"/><path d="M1109.7 97.1l8.1 10.5l-8.1 10.5l-8.1 -10.5z"/><path d="M1109.7 96.7l8.1 10.5l-8.1 10.5l-8.1 -10.5z"/><path d="M1109.7 96.2l8.1 10.5l-8.1 10.5l-8.1 -10.5z"/><path d="M1109.7 95.8l8.1 10.5l-8.1 10.5l-8.1 -10.5z"/><path d="M1109.7 95.3l8.1 10.5l-8.1 10.5l-8.1 -10.5z"/><path d="M1109.7 94.9l8.1 10.5l-8.1 10.5l-8.1 -10.5z"/><path d="M1109.7 94.3l8.1 10.5l-8.1 10.5l-8.1 -10.5z"/></g>
<rect x="139.5" y="501" width="351.7" height="79.8" fill="#fff" stroke="#3a3a3a" stroke-width="0.9"/>
<path d="M144.9 522.3H192.9" stroke="#4DBEEE" stroke-width="1" stroke-opacity="0.85"/>
<path d="M144.9 560.2H192.9" stroke="#D95319" stroke-width="1" stroke-opacity="0.85"/>
<g fill="#4DBEEE" stroke="#000" stroke-width="0.9"><rect x="162.8" y="516.1" width="12.3" height="12.3"/></g>
<g fill="#D95319" stroke="#1a0a00" stroke-width="0.9"><path d="M168.9 550l7.8 10.2l-7.8 10.2l-7.8 -10.2z"/></g>
<text transform="translate(196.9 533.8) scale(1 1.03)" class="lg" text-anchor="start">Beam current ramp up</text>
<text transform="translate(196.9 571.2) scale(1 1.03)" class="lg" text-anchor="start">Beam dump</text>
<rect x="1122.6" y="499.5" width="351.5" height="79.8" fill="#fff" stroke="#3a3a3a" stroke-width="0.9"/>
<path d="M1128 520.8H1176" stroke="#4DBEEE" stroke-width="1" stroke-opacity="0.85"/>
<path d="M1128 558.7H1176" stroke="#D95319" stroke-width="1" stroke-opacity="0.85"/>
<g fill="#4DBEEE" stroke="#000" stroke-width="0.9"><rect x="1145.8" y="514.6" width="12.3" height="12.3"/></g>
<g fill="#D95319" stroke="#1a0a00" stroke-width="0.9"><path d="M1152 548.5l7.8 10.2l-7.8 10.2l-7.8 -10.2z"/></g>
<text transform="translate(1179.9 532.3) scale(1 1.03)" class="lg" text-anchor="start">Beam current ramp up</text>
<text transform="translate(1179.9 569.7) scale(1 1.03)" class="lg" text-anchor="start">Beam dump</text>
<text transform="translate(125.3 637.4) scale(1 1.03)" class="tk" text-anchor="middle">0</text>
<text transform="translate(265.4 637.4) scale(1 1.03)" class="tk" text-anchor="middle">50</text>
<text transform="translate(405.5 637.4) scale(1 1.03)" class="tk" text-anchor="middle">100</text>
<text transform="translate(545.7 637.4) scale(1 1.03)" class="tk" text-anchor="middle">150</text>
<text transform="translate(685.8 637.4) scale(1 1.03)" class="tk" text-anchor="middle">200</text>
<text transform="translate(825.9 637.4) scale(1 1.03)" class="tk" text-anchor="middle">250</text>
<text transform="translate(1109.7 636) scale(1 1.03)" class="tk" text-anchor="middle">0</text>
<text transform="translate(1250.3 636) scale(1 1.03)" class="tk" text-anchor="middle">50</text>
<text transform="translate(1390.8 636) scale(1 1.03)" class="tk" text-anchor="middle">100</text>
<text transform="translate(1531.4 636) scale(1 1.03)" class="tk" text-anchor="middle">150</text>
<text transform="translate(1671.9 636) scale(1 1.03)" class="tk" text-anchor="middle">200</text>
<text transform="translate(1812.5 636) scale(1 1.03)" class="tk" text-anchor="middle">250</text>
<text transform="translate(114.8 49.5) scale(1 1.03)" class="tk" text-anchor="end">1</text>
<text transform="translate(114.8 142.4) scale(1 1.03)" class="tk" text-anchor="end">0.95</text>
<text transform="translate(114.8 235.4) scale(1 1.03)" class="tk" text-anchor="end">0.9</text>
<text transform="translate(114.8 328.3) scale(1 1.03)" class="tk" text-anchor="end">0.85</text>
<text transform="translate(114.8 421.2) scale(1 1.03)" class="tk" text-anchor="end">0.8</text>
<text transform="translate(114.8 514.2) scale(1 1.03)" class="tk" text-anchor="end">0.75</text>
<text transform="translate(114.8 607.1) scale(1 1.03)" class="tk" text-anchor="end">0.7</text>
<text transform="translate(1099.5 29.6) scale(1 1.03)" class="tk" text-anchor="end">0.5</text>
<text transform="translate(1099.5 125.6) scale(1 1.03)" class="tk" text-anchor="end">0</text>
<text transform="translate(1099.5 221.6) scale(1 1.03)" class="tk" text-anchor="end">-0.5</text>
<text transform="translate(1099.5 317.5) scale(1 1.03)" class="tk" text-anchor="end">-1</text>
<text transform="translate(1099.5 413.5) scale(1 1.03)" class="tk" text-anchor="end">-1.5</text>
<text transform="translate(1099.5 509.5) scale(1 1.03)" class="tk" text-anchor="end">-2</text>
<text transform="translate(1099.5 605.5) scale(1 1.03)" class="tk" text-anchor="end">-2.5</text>
<text transform="translate(475.6 681.3) scale(1 1.02)" class="lb" text-anchor="middle">Beam Current [mA]</text>
<text transform="translate(1461.1 680) scale(1 1.02)" class="lb" text-anchor="middle">Beam Current [mA]</text>
<text transform="translate(40.6 306.2) rotate(-90) scale(1 1.06)" class="lb" text-anchor="middle">Normalised quality factor</text>
<text transform="translate(1031 150.6) rotate(-90) scale(1 1.06)" class="lb" text-anchor="end"><tspan font-size="37">Δ</tspan><tspan dx="4.2"> Frequency [MHz]</tspan></text>
<text class="cp" x="409.3" y="772.2"><tspan font-size="58">(</tspan><tspan dx="0.3">a</tspan><tspan font-size="58" dx="-0.9">)</tspan></text>
<text class="cp" x="1394.3" y="772.2"><tspan font-size="58">(</tspan><tspan dx="-0.3">b</tspan><tspan font-size="58" dx="-1.0">)</tspan></text>
</svg>
</body></html>
